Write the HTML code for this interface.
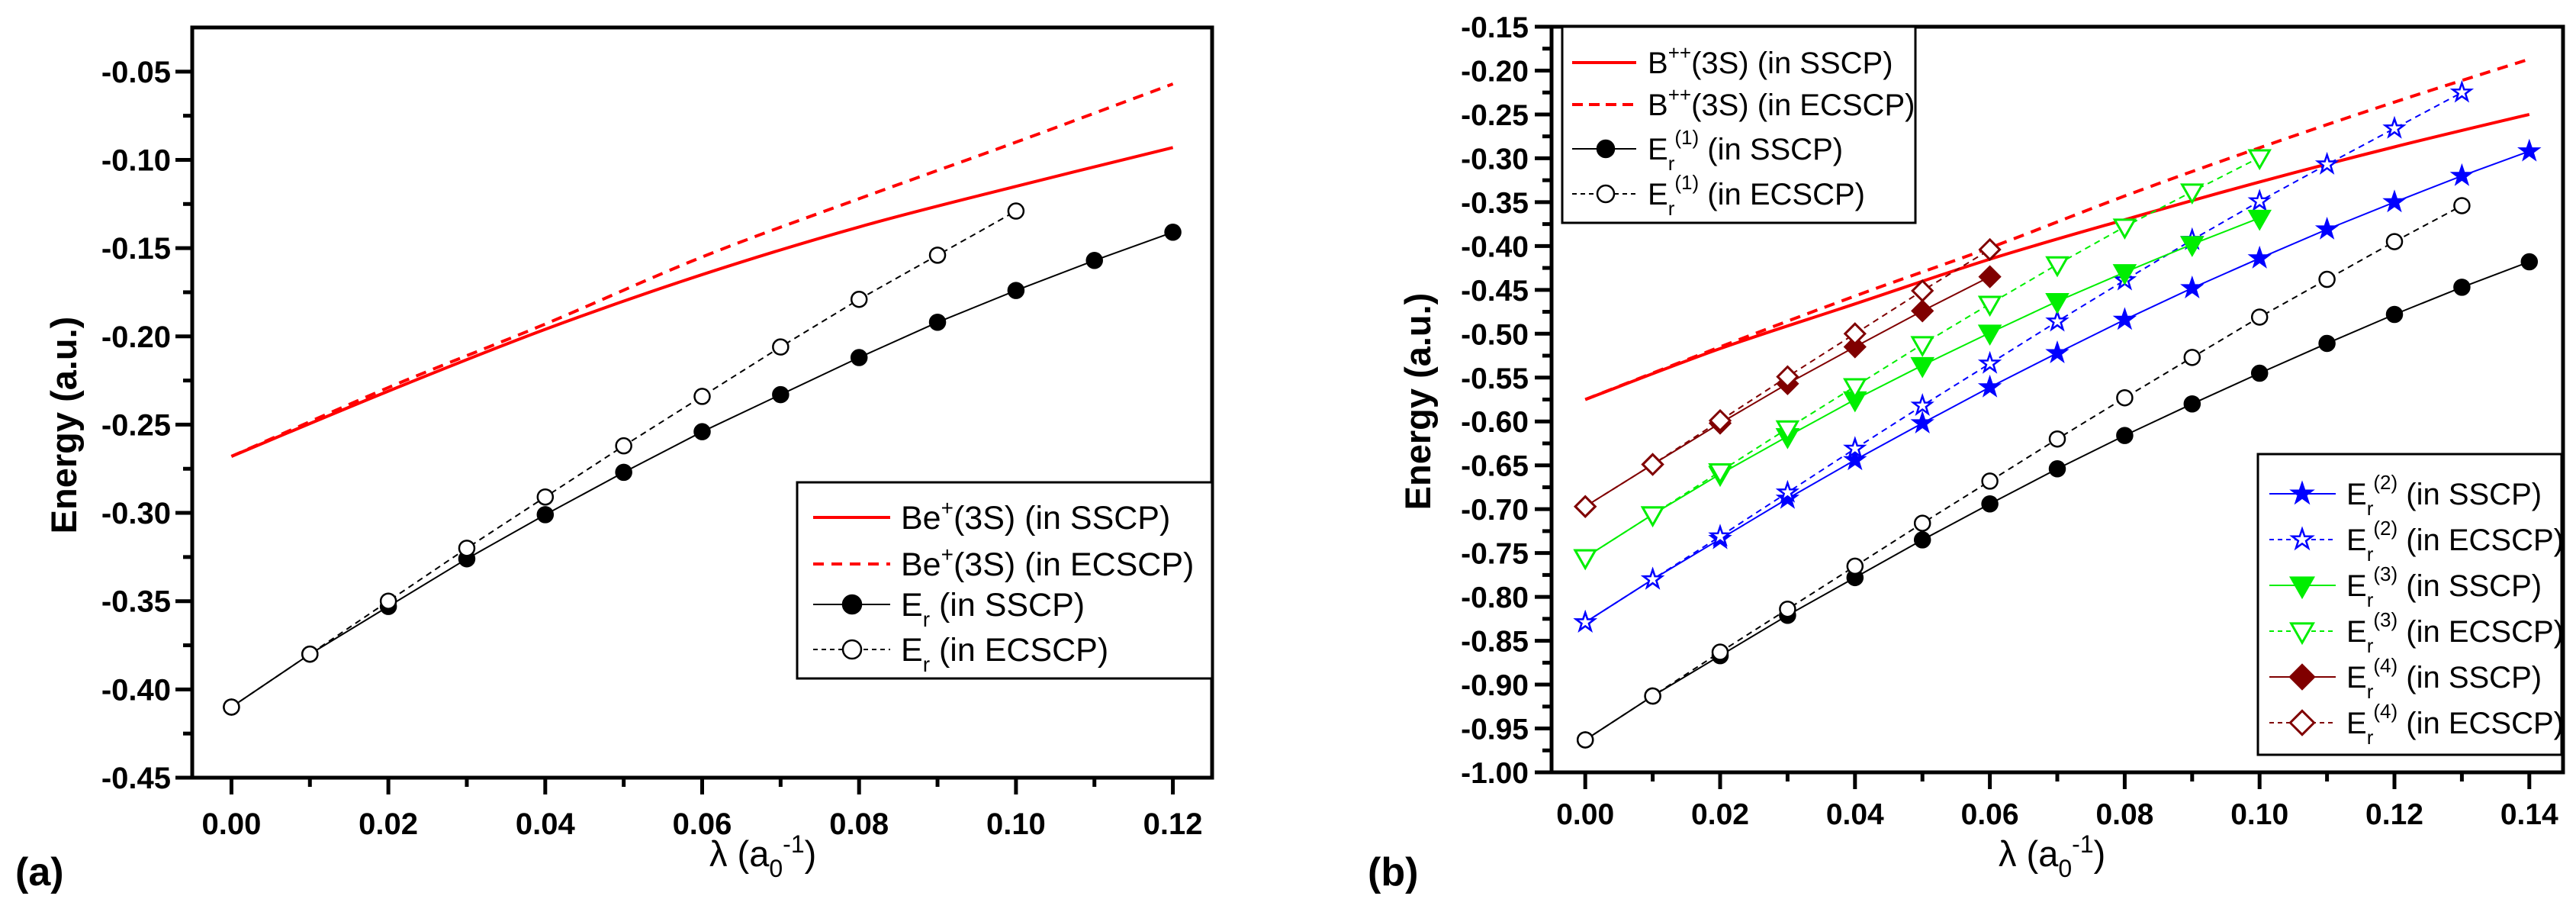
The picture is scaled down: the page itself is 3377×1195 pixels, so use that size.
<!DOCTYPE html>
<html><head><meta charset="utf-8"><style>
html,body{margin:0;padding:0;background:#fff;}
svg{display:block;font-family:"Liberation Sans",Arial,sans-serif;}
</style></head><body>
<svg id="fig" width="3377" height="1195" viewBox="0 0 3377 1195" xmlns="http://www.w3.org/2000/svg">
<g id="pa"></g>
<g id="pb"></g>
</svg>
<script>
// ---------- Panel (a) data ----------
const aLamCurve = [0, 0.02, 0.04, 0.06, 0.08, 0.10, 0.12];
const aBeSSCP   = [-0.268, -0.231, -0.196, -0.165, -0.138, -0.115, -0.093];
const aBeECSCP  = [-0.268, -0.229, -0.193, -0.155, -0.122, -0.090, -0.057];
const aLamS = [0,0.01,0.02,0.03,0.04,0.05,0.06,0.07,0.08,0.09,0.10,0.11,0.12];
const aErS  = [-0.410,-0.380,-0.353,-0.326,-0.301,-0.277,-0.254,-0.233,-0.212,-0.192,-0.174,-0.157,-0.141];
const aLamE = [0,0.01,0.02,0.03,0.04,0.05,0.06,0.07,0.08,0.09,0.10];
const aErE  = [-0.410,-0.380,-0.350,-0.320,-0.291,-0.262,-0.234,-0.206,-0.179,-0.154,-0.129];
const aYTicks = ["-0.05","-0.10","-0.15","-0.20","-0.25","-0.30","-0.35","-0.40","-0.45"];
const aXTicks = ["0.00","0.02","0.04","0.06","0.08","0.10","0.12"];

// ---------- Panel (b) data ----------
const bLamCurve = [0,0.02,0.04,0.06,0.08,0.10,0.12,0.14];
const bBSSCP  = [-0.575,-0.517,-0.466,-0.415,-0.370,-0.327,-0.287,-0.250];
const bBECSCP = [-0.575,-0.515,-0.457,-0.402,-0.343,-0.288,-0.236,-0.187];
const bLam15 = [0,0.01,0.02,0.03,0.04,0.05,0.06,0.07,0.08,0.09,0.10,0.11,0.12,0.13,0.14];
const bLam14 = [0,0.01,0.02,0.03,0.04,0.05,0.06,0.07,0.08,0.09,0.10,0.11,0.12,0.13];
const bLam11 = [0,0.01,0.02,0.03,0.04,0.05,0.06,0.07,0.08,0.09,0.10];
const bLam7  = [0,0.01,0.02,0.03,0.04,0.05,0.06];
const bE1S = [-0.963,-0.913,-0.867,-0.821,-0.778,-0.735,-0.694,-0.654,-0.616,-0.580,-0.545,-0.511,-0.478,-0.447,-0.418];
const bE1E = [-0.963,-0.913,-0.863,-0.814,-0.765,-0.716,-0.668,-0.620,-0.573,-0.527,-0.481,-0.438,-0.395,-0.354];
const bE2S = [-0.829,-0.780,-0.734,-0.688,-0.644,-0.602,-0.561,-0.522,-0.484,-0.448,-0.414,-0.381,-0.350,-0.320,-0.292];
const bE2E = [-0.829,-0.780,-0.731,-0.681,-0.631,-0.582,-0.534,-0.486,-0.439,-0.393,-0.349,-0.307,-0.266,-0.225];
const bE3S = [-0.755,-0.706,-0.660,-0.617,-0.575,-0.536,-0.499,-0.463,-0.430,-0.398,-0.368];
const bE3E = [-0.755,-0.706,-0.657,-0.608,-0.560,-0.512,-0.466,-0.421,-0.378,-0.338,-0.299];
const bE4S = [-0.697,-0.649,-0.602,-0.557,-0.515,-0.474,-0.435];
const bE4E = [-0.697,-0.649,-0.599,-0.549,-0.500,-0.451,-0.404];
const bYTicks = ["-0.15","-0.20","-0.25","-0.30","-0.35","-0.40","-0.45","-0.50","-0.55","-0.60","-0.65","-0.70","-0.75","-0.80","-0.85","-0.90","-0.95","-1.00"];
const bXTicks = ["0.00","0.02","0.04","0.06","0.08","0.10","0.12","0.14"];

const NS = "http://www.w3.org/2000/svg";
function mk(parent, tag, attrs, text){
  const e = document.createElementNS(NS, tag);
  for (const k in attrs) e.setAttribute(k, attrs[k]);
  if (text !== undefined) e.textContent = text;
  parent.appendChild(e);
  return e;
}
function axis(x0,x1,px0,px1,y0,y1,py0,py1){
  return {
    x: v => px0 + (v - x0) / (x1 - x0) * (px1 - px0),
    y: v => py0 + (v - y0) / (y1 - y0) * (py1 - py0)
  };
}
function poly(g, ax, xs, ys, stroke, w, dash, name){
  const pts = xs.map((x,i)=>ax.x(x).toFixed(1)+","+ax.y(ys[i]).toFixed(1)).join(" ");
  const p = mk(g,"polyline",{points:pts,fill:"none",stroke:stroke,"stroke-width":w,"stroke-linejoin":"round"});
  if (dash) p.setAttribute("stroke-dasharray", dash);
  
  
  return p;
}
function smooth(g, ax, xs, ys, stroke, w, dash, name){
  const P = xs.map((x,i)=>[ax.x(x), ax.y(ys[i])]);
  let d = "M"+P[0][0].toFixed(1)+","+P[0][1].toFixed(1);
  for(let i=0;i<P.length-1;i++){
    const p0=P[Math.max(0,i-1)], p1=P[i], p2=P[i+1], p3=P[Math.min(P.length-1,i+2)];
    const c1=[p1[0]+(p2[0]-p0[0])/6, p1[1]+(p2[1]-p0[1])/6];
    const c2=[p2[0]-(p3[0]-p1[0])/6, p2[1]-(p3[1]-p1[1])/6];
    d += " C"+c1[0].toFixed(1)+","+c1[1].toFixed(1)+" "+c2[0].toFixed(1)+","+c2[1].toFixed(1)+" "+p2[0].toFixed(1)+","+p2[1].toFixed(1);
  }
  const p = mk(g,"path",{d:d,fill:"none",stroke:stroke,"stroke-width":w});
  if (dash) p.setAttribute("stroke-dasharray", dash);
  
  
  return p;
}
function marker(g, type, cx, cy, color, filled, s){
  let e;
  const fill = filled ? color : "#fff";
  if (type === "circle") {
    e = mk(g,"circle",{cx:cx,cy:cy,r:s,fill:fill,stroke:color,"stroke-width":2.5});
  } else if (type === "star") {
    let pts=[];
    for(let i=0;i<10;i++){const r=i%2?s*0.45:s*1.15;const a=-Math.PI/2+i*Math.PI/5;pts.push((cx+r*Math.cos(a)).toFixed(1)+","+(cy+r*Math.sin(a)).toFixed(1));}
    e = mk(g,"polygon",{points:pts.join(" "),fill:fill,stroke:color,"stroke-width":2.5});
  } else if (type === "tri") {
    const r=s*1.2;
    e = mk(g,"polygon",{points:`${cx-r},${cy-r*0.7} ${cx+r},${cy-r*0.7} ${cx},${cy+r*1.05}`,fill:fill,stroke:color,"stroke-width":3});
  } else {
    const r=s*1.3;
    e = mk(g,"polygon",{points:`${cx},${cy-r} ${cx+r},${cy} ${cx},${cy+r} ${cx-r},${cy}`,fill:fill,stroke:color,"stroke-width":3});
  }
  
  
  return e;
}
function series(g, ax, xs, ys, color, dash, type, filled, s, name){
  poly(g, ax, xs, ys, color, 2, dash, name+"-line");
  xs.forEach((x,i)=>marker(g,type,ax.x(x),ax.y(ys[i]),color,filled,s));
}
function frame(g, L,R,T,B, name){
  const r = mk(g,"rect",{x:L,y:T,width:R-L,height:B-T,fill:"none",stroke:"#000","stroke-width":5});
  
  
}

// ================= PANEL A =================
(function(){
  const g = document.getElementById("pa");
  const L=252,R=1589,T=36,B=1019;
  const ax = axis(-0.005,0.125,L,R,-0.025,-0.45,T,B);
  aYTicks.forEach(t=>{
    const v=parseFloat(t), y=ax.y(v);
    mk(g,"line",{x1:L-22,x2:L,y1:y,y2:y,stroke:"#000","stroke-width":5});
    const tx=mk(g,"text",{x:L-28,y:y+14,"font-size":40,"font-weight":"bold","text-anchor":"end"},t);
    
    
  });
  for(let k=0;k<8;k++){ const y=ax.y(-0.075-0.05*k); mk(g,"line",{x1:L-12,x2:L,y1:y,y2:y,stroke:"#000","stroke-width":5}); }
  aXTicks.forEach(t=>{
    const v=parseFloat(t), x=ax.x(v);
    mk(g,"line",{x1:x,x2:x,y1:B,y2:B+22,stroke:"#000","stroke-width":5});
    const tx=mk(g,"text",{x:x,y:B+74,"font-size":40,"font-weight":"bold","text-anchor":"middle"},t);
    
    
  });
  for(let k=1;k<12;k+=2){ const x=ax.x(k*0.01); mk(g,"line",{x1:x,x2:x,y1:B,y2:B+12,stroke:"#000","stroke-width":5}); }
  smooth(g, ax, aLamCurve, aBeSSCP, "#ff0000", 4, null, "be-sscp-line");
  smooth(g, ax, aLamCurve, aBeECSCP, "#ff0000", 4, "14 10", "be-ecscp-line");
  series(g, ax, aLamS, aErS, "#000", null, "circle", true, 10, "er-sscp");
  series(g, ax, aLamE, aErE, "#000", "8 6", "circle", false, 10, "er-ecscp");
  frame(g,L,R,T,B,"plot-frame-a");
  const lg = mk(g,"g",{});
  
  
  mk(lg,"rect",{x:1045,y:632,width:R-1045,height:257,fill:"#fff",stroke:"#000","stroke-width":3});
  const rows=[678,739,792,851];
  mk(lg,"line",{x1:1066,x2:1167,y1:rows[0],y2:rows[0],stroke:"#f00","stroke-width":4});
  mk(lg,"line",{x1:1066,x2:1167,y1:rows[1],y2:rows[1],stroke:"#f00","stroke-width":4,"stroke-dasharray":"14 10"});
  mk(lg,"line",{x1:1066,x2:1167,y1:rows[2],y2:rows[2],stroke:"#000","stroke-width":2});
  marker(lg,"circle",1117,rows[2],"#000",true,12);
  mk(lg,"line",{x1:1066,x2:1167,y1:rows[3],y2:rows[3],stroke:"#000","stroke-width":2,"stroke-dasharray":"6 5"});
  marker(lg,"circle",1117,rows[3],"#000",false,12);
  const lt=[
    'Be<tspan dy="-18" font-size="28">+</tspan><tspan dy="18">(3S) (in SSCP)</tspan>',
    'Be<tspan dy="-18" font-size="28">+</tspan><tspan dy="18">(3S) (in ECSCP)</tspan>',
    'E<tspan dy="14" font-size="28">r</tspan><tspan dy="-14"> (in SSCP)</tspan>',
    'E<tspan dy="14" font-size="28">r</tspan><tspan dy="-14"> (in ECSCP)</tspan>'];
  lt.forEach((h,i)=>{const t=mk(lg,"text",{x:1181,y:rows[i]+15,"font-size":43});t.innerHTML=h;
    });
  const yt=mk(g,"text",{x:0,y:0,"font-size":47,"font-weight":"bold","text-anchor":"middle",transform:"translate(100,557) rotate(-90)"},"Energy (a.u.)");
  
  const xt=mk(g,"text",{x:930,y:1135,"font-size":47});
  xt.innerHTML='λ (a<tspan dy="14" font-size="32">0</tspan><tspan dy="-32" font-size="32">-1</tspan><tspan dy="18">)</tspan>';
  
  const pl=mk(g,"text",{x:20,y:1160,"font-size":52,"font-weight":"bold"},"(a)");
  
})();

// ================= PANEL B =================
(function(){
  const g = document.getElementById("pb");
  const L=2034,R=3360,T=35,B=1012;
  const ax = axis(-0.005,0.145,L,R,-0.15,-1.0,T,B);
  bYTicks.forEach(t=>{
    const v=parseFloat(t), y=ax.y(v);
    mk(g,"line",{x1:L-22,x2:L,y1:y,y2:y,stroke:"#000","stroke-width":5});
    const tx=mk(g,"text",{x:L-30,y:y+14,"font-size":39,"font-weight":"bold","text-anchor":"end"},t);
    
    
  });
  for(let k=0;k<17;k++){ const y=ax.y(-0.175-0.05*k); mk(g,"line",{x1:L-12,x2:L,y1:y,y2:y,stroke:"#000","stroke-width":5}); }
  bXTicks.forEach(t=>{
    const v=parseFloat(t), x=ax.x(v);
    mk(g,"line",{x1:x,x2:x,y1:B,y2:B+22,stroke:"#000","stroke-width":5});
    const tx=mk(g,"text",{x:x,y:B+68,"font-size":39,"font-weight":"bold","text-anchor":"middle"},t);
    
    
  });
  for(let k=1;k<14;k+=2){ const x=ax.x(k*0.01); mk(g,"line",{x1:x,x2:x,y1:B,y2:B+12,stroke:"#000","stroke-width":5}); }
  smooth(g, ax, bLamCurve, bBSSCP, "#ff0000", 4, null, "b-sscp-line");
  smooth(g, ax, bLamCurve, bBECSCP, "#ff0000", 4, "14 10", "b-ecscp-line");
  const blue="#0000ff", green="#00ee00", maroon="#800000";
  series(g, ax, bLam15, bE1S, "#000", null, "circle", true, 10, "er1-sscp");
  series(g, ax, bLam14, bE1E, "#000", "8 6", "circle", false, 10, "er1-ecscp");
  series(g, ax, bLam15, bE2S, blue, null, "star", true, 11, "er2-sscp");
  series(g, ax, bLam14, bE2E, blue, "8 6", "star", false, 11, "er2-ecscp");
  series(g, ax, bLam11, bE3S, green, null, "tri", true, 11, "er3-sscp");
  series(g, ax, bLam11, bE3E, green, "8 6", "tri", false, 11, "er3-ecscp");
  series(g, ax, bLam7, bE4S, maroon, null, "dia", true, 10, "er4-sscp");
  series(g, ax, bLam7, bE4E, maroon, "8 6", "dia", false, 10, "er4-ecscp");
  frame(g,L,R,T,B,"plot-frame-b");
  const l1 = mk(g,"g",{});
  
  
  mk(l1,"rect",{x:2048,y:35,width:463,height:257,fill:"#fff",stroke:"#000","stroke-width":3});
  const r1=[82,137,195,254];
  mk(l1,"line",{x1:2061,x2:2145,y1:r1[0],y2:r1[0],stroke:"#f00","stroke-width":4});
  mk(l1,"line",{x1:2061,x2:2145,y1:r1[1],y2:r1[1],stroke:"#f00","stroke-width":4,"stroke-dasharray":"14 8"});
  mk(l1,"line",{x1:2061,x2:2145,y1:r1[2],y2:r1[2],stroke:"#000","stroke-width":2});
  marker(l1,"circle",2105,r1[2],"#000",true,11);
  mk(l1,"line",{x1:2061,x2:2145,y1:r1[3],y2:r1[3],stroke:"#000","stroke-width":2,"stroke-dasharray":"6 5"});
  marker(l1,"circle",2105,r1[3],"#000",false,11);
  const t1=[
    'B<tspan dy="-18" font-size="26">++</tspan><tspan dy="18">(3S) (in SSCP)</tspan>',
    'B<tspan dy="-18" font-size="26">++</tspan><tspan dy="18">(3S) (in ECSCP)</tspan>',
    'E<tspan dy="14" font-size="26">r</tspan><tspan dy="-34" font-size="26">(1)</tspan><tspan dy="20"> (in SSCP)</tspan>',
    'E<tspan dy="14" font-size="26">r</tspan><tspan dy="-34" font-size="26">(1)</tspan><tspan dy="20"> (in ECSCP)</tspan>'];
  t1.forEach((h,i)=>{const t=mk(l1,"text",{x:2160,y:r1[i]+14,"font-size":40});t.innerHTML=h;
    });
  const l2 = mk(g,"g",{});
  
  
  mk(l2,"rect",{x:2960,y:595,width:398,height:394,fill:"#fff",stroke:"#000","stroke-width":3});
  const r2=[647,707,767,827,887,947];
  const specs=[[blue,null,"star",true,"(2)","SSCP"],[blue,"6 5","star",false,"(2)","ECSCP"],
    [green,null,"tri",true,"(3)","SSCP"],[green,"6 5","tri",false,"(3)","ECSCP"],
    [maroon,null,"dia",true,"(4)","SSCP"],[maroon,"6 5","dia",false,"(4)","ECSCP"]];
  specs.forEach((s,i)=>{
    const ln=mk(l2,"line",{x1:2975,x2:3062,y1:r2[i],y2:r2[i],stroke:s[0],"stroke-width":2});
    if(s[1]) ln.setAttribute("stroke-dasharray",s[1]);
    marker(l2,s[2],3018,r2[i],s[0],s[3],12);
    const t=mk(l2,"text",{x:3076,y:r2[i]+14,"font-size":40});
    t.innerHTML='E<tspan dy="14" font-size="26">r</tspan><tspan dy="-34" font-size="26">'+s[4]+'</tspan><tspan dy="20"> (in '+s[5]+')</tspan>';
    
  });
  const yt=mk(g,"text",{x:0,y:0,"font-size":47,"font-weight":"bold","text-anchor":"middle",transform:"translate(1875,526) rotate(-90)"},"Energy (a.u.)");
  
  const xt=mk(g,"text",{x:2620,y:1135,"font-size":47});
  xt.innerHTML='λ (a<tspan dy="14" font-size="32">0</tspan><tspan dy="-32" font-size="32">-1</tspan><tspan dy="18">)</tspan>';
  
  const pl=mk(g,"text",{x:1793,y:1160,"font-size":52,"font-weight":"bold"},"(b)");
  
})();
</script>
</body></html>
